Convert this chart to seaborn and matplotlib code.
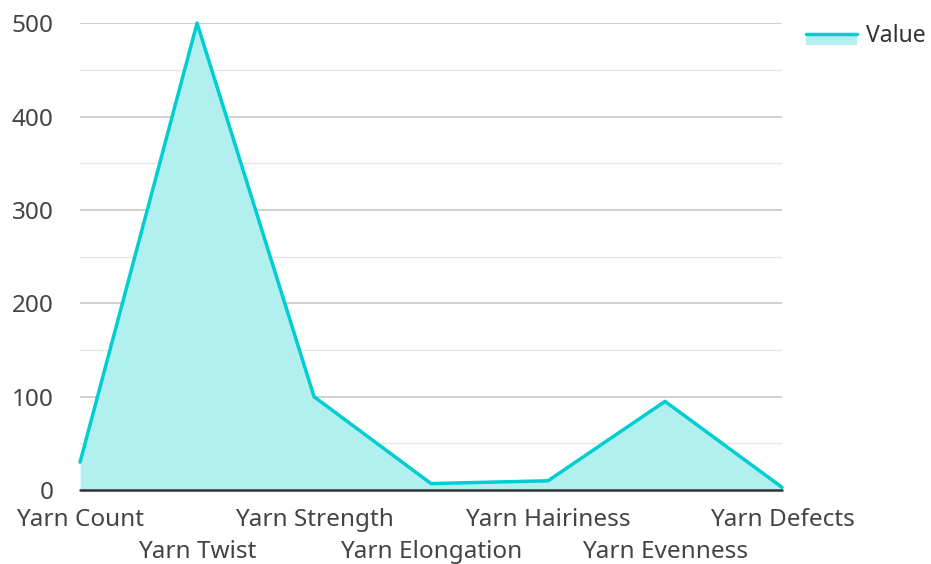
import matplotlib
matplotlib.use("Agg")
import matplotlib.pyplot as plt
import seaborn as sns
import pandas as pd
from matplotlib.legend_handler import HandlerBase
from matplotlib.patches import Rectangle
from matplotlib.lines import Line2D

categories = ["Yarn Count", "Yarn Twist", "Yarn Strength", "Yarn Elongation",
              "Yarn Hairiness", "Yarn Evenness", "Yarn Defects"]
values = [30, 500, 100, 7, 10, 95, 3]
y_ticks = [0, 100, 200, 300, 400, 500]

LINE = "#00CED1"
FILL = "#B2EFEF"
TEXT = "#444444"
FS = 17.5

sns.set_theme(style="white")
plt.rcParams["font.family"] = ["Noto Sans", "DejaVu Sans"]

df = pd.DataFrame({"category": categories, "value": values})
df["pos"] = range(len(df))

fig = plt.figure(figsize=(9.31, 5.64), dpi=100)
ax = fig.add_axes([0.086, 0.131, 0.754, 0.828])

# gridlines: major every 100, lighter ones halfway between
for v in range(50, 500, 100):
    ax.axhline(v, color="#e6e6e6", lw=1, zorder=0)
for v in y_ticks[1:]:
    ax.axhline(v, color="#c8c8c8", lw=1.2, zorder=0)

ax.fill_between(df["pos"], df["value"], 0, color=FILL, lw=0, zorder=1)
sns.lineplot(data=df, x="pos", y="value", ax=ax, color=LINE, lw=2.5,
             zorder=3, clip_on=False)
ax.axhline(0, color="#333333", lw=1.8, zorder=4, clip_on=False)

ax.set_xlim(0, len(categories) - 1)
ax.set_ylim(0, 500)
ax.set_xlabel("")
ax.set_ylabel("")
ax.set_yticks(y_ticks)
ax.set_yticklabels([str(t) for t in y_ticks])
ax.tick_params(axis="y", length=0, pad=19, labelsize=FS, labelcolor=TEXT)
ax.set_xticks(df["pos"])
ax.set_xticklabels(categories)
ax.tick_params(axis="x", length=0, pad=13, labelsize=FS, labelcolor=TEXT)
for i, lab in enumerate(ax.get_xticklabels()):
    if i % 2 == 1:
        lab.set_y(-0.068)
for s in ax.spines.values():
    s.set_visible(False)


class AreaHandler(HandlerBase):
    def create_artists(self, legend, orig, xd, yd, w, h, fs, trans):
        rect = Rectangle((xd, yd - 0.15 * h), w, h * 0.75, facecolor=FILL,
                         edgecolor="none", transform=trans)
        ln = Line2D([xd, xd + w], [yd + 0.55 * h, yd + 0.55 * h],
                    color=LINE, lw=2.5, transform=trans)
        return [rect, ln]


handle = Rectangle((0, 0), 1, 1)
leg = fig.legend([handle], ["Value"], handler_map={Rectangle: AreaHandler()},
                 loc="upper left", bbox_to_anchor=(0.856, 0.973),
                 frameon=False, fontsize=16.5, handlelength=2.2,
                 handletextpad=0.4, borderaxespad=0)
for t in leg.get_texts():
    t.set_color("#333333")

fig.savefig("out.png", dpi=100)
